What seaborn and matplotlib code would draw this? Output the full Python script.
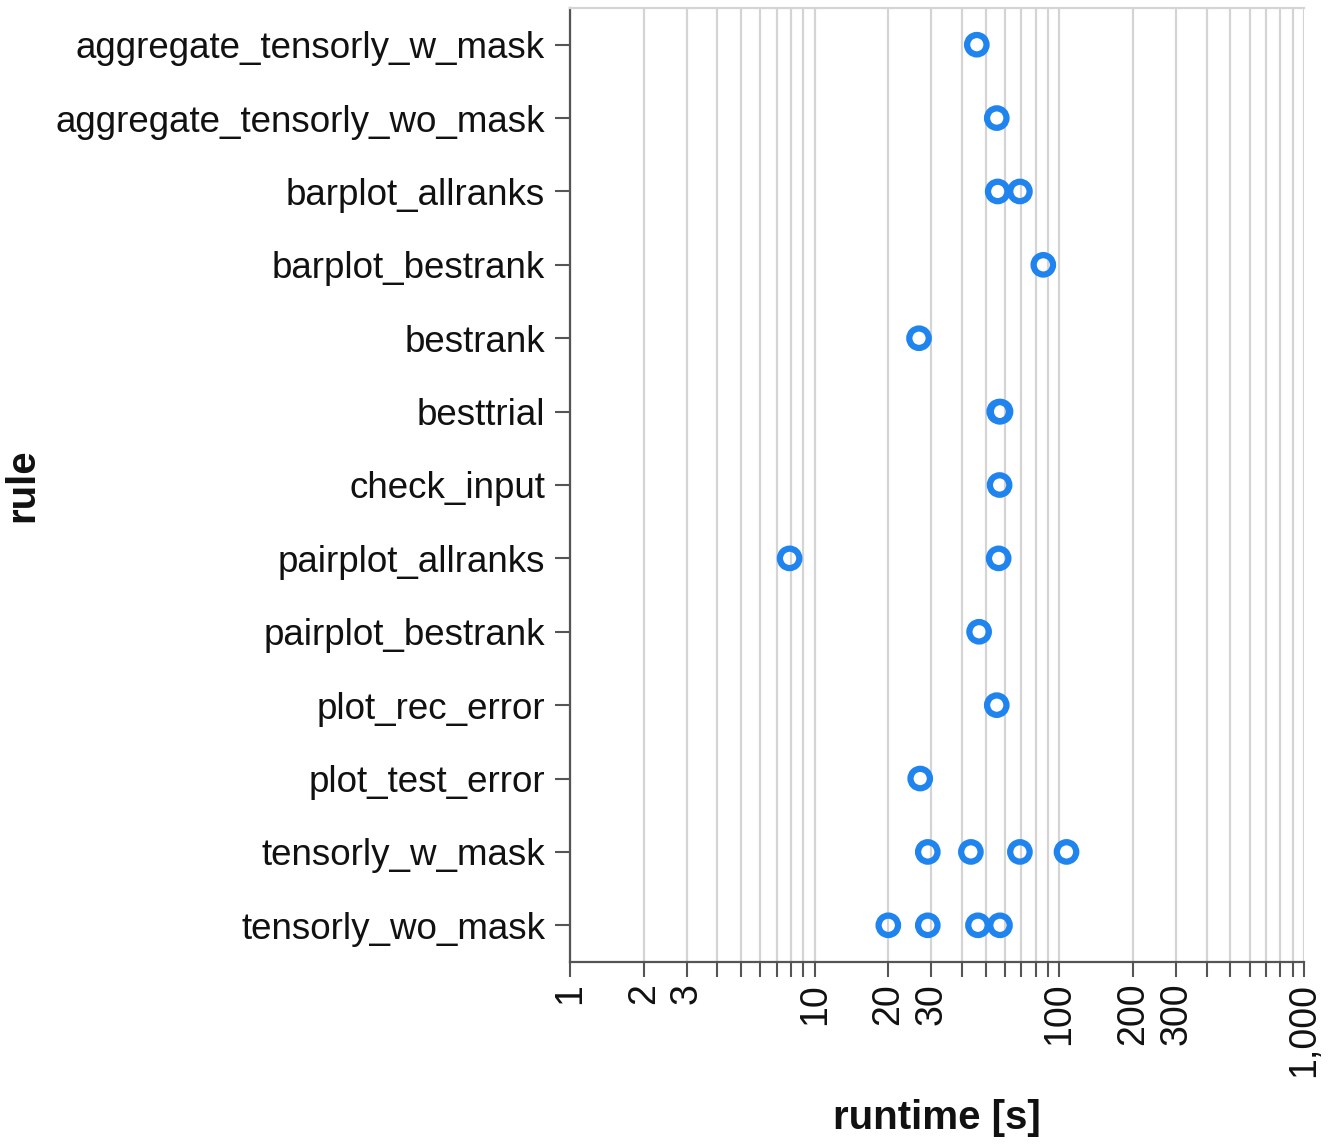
import numpy as np
import pandas as pd
import matplotlib
matplotlib.use("Agg")
import matplotlib.pyplot as plt
import matplotlib.ticker as mticker
import seaborn as sns

rules = [
    "aggregate_tensorly_w_mask", "aggregate_tensorly_wo_mask", "barplot_allranks",
    "barplot_bestrank", "bestrank", "besttrial", "check_input", "pairplot_allranks",
    "pairplot_bestrank", "plot_rec_error", "plot_test_error", "tensorly_w_mask",
    "tensorly_wo_mask",
]
runtimes = [
    [46],
    [55.5],
    [56, 69],
    [86],
    [26.7],
    [56.8, 57.5],
    [57],
    [7.9, 56.5],
    [47],
    [55.5],
    [27],
    [29, 43.5, 69, 107],
    [20, 29, 46.5, 57.2],
]
major_ticks = [1, 2, 3, 10, 20, 30, 100, 200, 300, 1000]
minor_ticks = [4, 5, 6, 7, 8, 9, 40, 50, 60, 70, 80, 90, 400, 500, 600, 700, 800, 900]

rows = [(r, v) for r, vals in zip(rules, runtimes) for v in vals]
df = pd.DataFrame(rows, columns=["rule", "runtime"])

sns.set_theme(style="white")
plt.rcParams["font.family"] = ["Liberation Sans", "DejaVu Sans"]

blue = "#1f84ee"
txt = "#111111"
fig = plt.figure(figsize=(13.28, 11.48), dpi=100)
ax = fig.add_axes([570 / 1328, 1 - 962 / 1148, (1304 - 570) / 1328, (962 - 8) / 1148])

sns.stripplot(data=df, x="runtime", y="rule", order=rules, jitter=False,
              color=blue, size=14, ax=ax, log_scale=True, zorder=3)
for coll in ax.collections:
    coll.set_facecolor("none")
    coll.set_edgecolor(blue)
    coll.set_linewidth(4.5)

ax.set_xscale("log")
ax.set_xlim(1, 1000)
ax.set_ylim(len(rules) - 0.5, -0.5)

ax.xaxis.set_major_locator(mticker.FixedLocator(major_ticks))
ax.xaxis.set_minor_locator(mticker.FixedLocator(minor_ticks))
ax.xaxis.set_major_formatter(mticker.FuncFormatter(lambda v, p: f"{int(round(v)):,}"))
ax.xaxis.set_minor_formatter(mticker.NullFormatter())

ax.grid(True, which="both", axis="x", color="#d4d4d4", linewidth=1.6, zorder=0)
ax.set_axisbelow(True)

ax.tick_params(axis="x", which="both", bottom=True, length=11, width=1.5,
               color="#555555", labelsize=27, pad=4, labelrotation=90, labelcolor=txt)
ax.tick_params(axis="y", left=True, length=11, width=1.5, color="#555555",
               labelsize=26.5, pad=7, labelcolor=txt)
for lab in ax.get_xticklabels():
    lab.set_verticalalignment("top")

for s in ["left", "bottom"]:
    ax.spines[s].set_color("#555555")
    ax.spines[s].set_linewidth(1.6)
ax.spines["top"].set_color("#d4d4d4")
ax.spines["top"].set_linewidth(1.6)
ax.spines["right"].set_visible(False)

ax.set_xlabel("runtime [s]", fontsize=29, fontweight="bold", labelpad=16, color=txt)
ax.set_ylabel("rule", fontsize=29, fontweight="bold", color=txt, va="center")
ax.yaxis.set_label_coords((22 - 570) / 734, 0.5)

fig.savefig("out.png", dpi=100)
